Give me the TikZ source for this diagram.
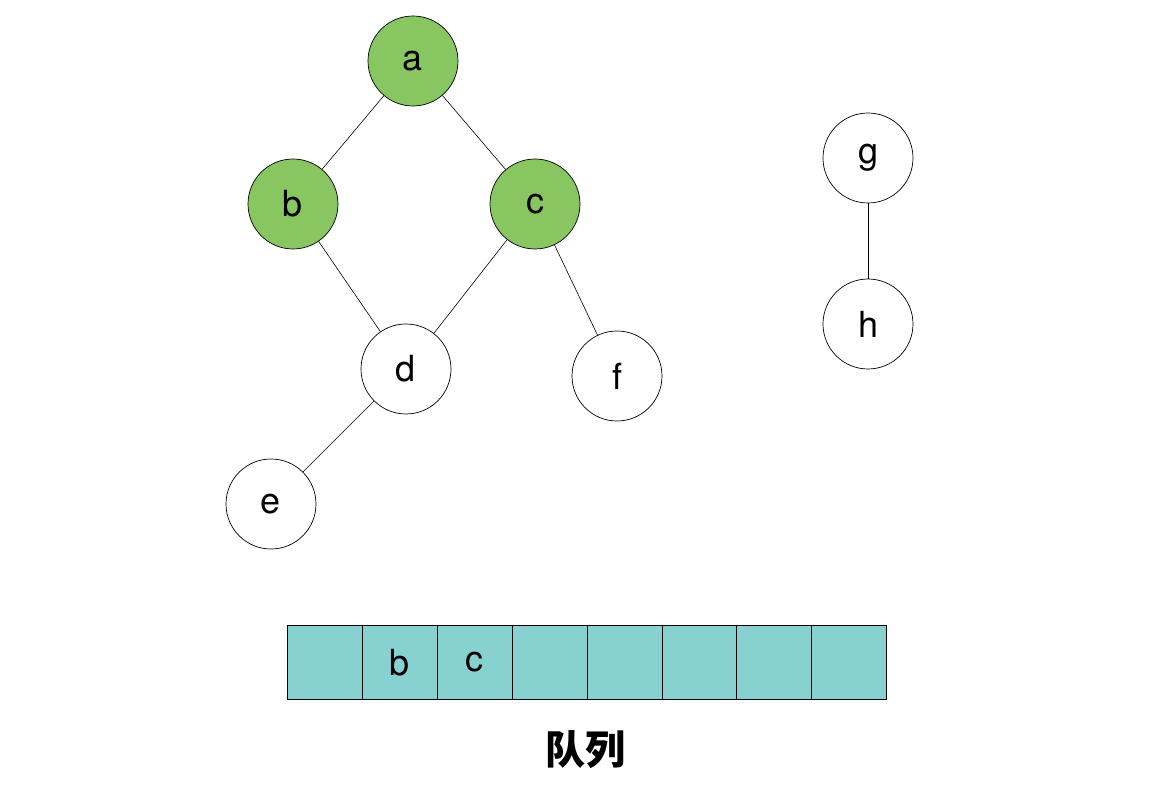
\documentclass[tikz,border=0pt]{standalone}
\usepackage{fontspec}
\setmainfont{TeX Gyre Heros}
\newfontfamily\cjk{Noto Sans CJK SC}
\begin{document}
\begin{tikzpicture}[x=1pt,y=-1pt,
  vtx/.style={circle,draw,line width=0.7pt,minimum size=90pt,inner sep=0pt,font=\fontsize{36}{40}\selectfont},
  vis/.style={vtx,fill=vgreen},
  cell/.style={draw,line width=0.7pt,fill=qcyan,minimum width=74.9pt,minimum height=74pt,inner sep=0pt,anchor=north west,font=\fontsize{36}{40}\selectfont},
  edge/.style={line width=0.6pt}]
\definecolor{vgreen}{HTML}{88C662}
\definecolor{qcyan}{HTML}{88D1D1}
\useasboundingbox (0,0) rectangle (1162,791);
\node[vis] (a) at (413,61) {a};
\node[vis] (b) at (293,204) {b};
\node[vis] (c) at (535,204) {c};
\node[vtx] (d) at (406,369) {d};
\node[vtx] (f) at (617,376) {f};
\node[vtx] (e) at (271,504) {e};
\node[vtx] (g) at (868,158) {g};
\node[vtx] (h) at (868,324) {h};
\draw[edge] (a)--(b); \draw[edge] (a)--(c);
\draw[edge] (b)--(d); \draw[edge] (c)--(d);
\draw[edge] (c)--(f); \draw[edge] (d)--(e);
\draw[edge] (g)--(h);
\node[cell] (q0) at (287,625) {};
\node[cell] (q1) at (361.9,625) {b};
\node[cell] (q2) at (436.8,625) {c};
\node[cell] (q3) at (511.7,625) {};
\node[cell] (q4) at (586.6,625) {};
\node[cell] (q5) at (661.5,625) {};
\node[cell] (q6) at (736.4,625) {};
\node[cell] (q7) at (811.3,625) {};
\node[font=\cjk\bfseries\fontsize{40}{44}\selectfont] (lbl) at (585,750) {队列};
\end{tikzpicture}
\end{document}
